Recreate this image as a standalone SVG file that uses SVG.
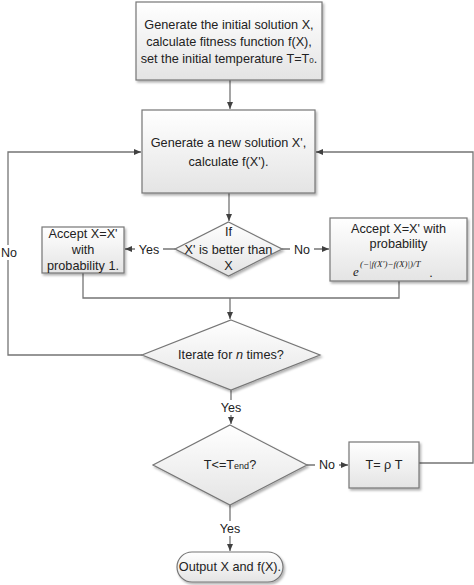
<svg xmlns="http://www.w3.org/2000/svg" width="474" height="585" viewBox="0 0 474 585">
<defs>
<linearGradient id="g" x1="0" y1="0" x2="0" y2="1">
<stop offset="0" stop-color="#ffffff"/>
<stop offset="1" stop-color="#e4e4e4"/>
</linearGradient>
<filter id="sh" x="-10%" y="-10%" width="125%" height="130%">
<feDropShadow dx="1.5" dy="2" stdDeviation="1.2" flood-color="#000" flood-opacity="0.3"/>
</filter>
<marker id="ah" markerWidth="8" markerHeight="8" refX="7" refY="4" orient="auto" markerUnits="userSpaceOnUse">
<path d="M0,1 L7,4 L0,7 Z" fill="#404040"/>
</marker>
<style>
.n{fill:url(#g);stroke:#767676;stroke-width:1.2;filter:url(#sh)}
.t{font-family:"Liberation Sans",Arial,sans-serif;font-size:12.7px;fill:#222;text-anchor:middle}
.c{fill:none;stroke:#747474;stroke-width:1.3}
.a{marker-end:url(#ah)}
.lb{font-family:"Liberation Sans",Arial,sans-serif;font-size:12.5px;fill:#222;text-anchor:middle}
.m{font-family:"Liberation Serif","Times New Roman",serif;font-style:italic;fill:#222}
</style>
</defs>

<g id="connectors">
<path class="c a" d="M230,80 V109"/>
<path class="c a" d="M229,193 V221"/>
<path class="c a" d="M175,249 H125"/>
<path class="c a" d="M282,249 H329"/>
<path class="c" d="M83,273 V298 H399 V281"/>
<path class="c a" d="M230,298 V319"/>
<path class="c a" d="M142,355 H8 V152 H141"/>
<path class="c a" d="M419,463 H473 V152 H316"/>
<path class="c a" d="M231,390 V424"/>
<path class="c a" d="M307,465 H348"/>
<path class="c a" d="M230,505 V551"/>
<rect x="135" y="242" width="28" height="15" fill="#fff"/>
<text class="lb" x="149" y="254">Yes</text>
<rect x="290" y="242" width="24" height="15" fill="#fff"/>
<text class="lb" x="302" y="254">No</text>
<rect x="0" y="245" width="17" height="15" fill="#fff"/>
<text class="lb" x="9" y="257">No</text>
<rect x="217" y="400" width="28" height="15" fill="#fff"/>
<text class="lb" x="231" y="412">Yes</text>
<rect x="315" y="457" width="24" height="15" fill="#fff"/>
<text class="lb" x="327" y="469">No</text>
<rect x="216" y="521" width="28" height="15" fill="#fff"/>
<text class="lb" x="230" y="533">Yes</text>
</g>

<g id="init">
<rect class="n" x="136" y="2" width="186" height="78"/>
<text class="t" x="229" y="29">Generate the initial solution X,</text>
<text class="t" x="229" y="46">calculate fitness function f(X),</text>
<text class="t" x="229" y="63">set the initial temperature T=T<tspan font-size="8">0</tspan>.</text>
</g>

<g id="newsol">
<rect class="n" x="142" y="110" width="173" height="83"/>
<text class="t" x="228.5" y="147">Generate a new solution X',</text>
<text class="t" x="228.5" y="166">calculate f(X').</text>
</g>

<g id="better">
<polygon class="n" points="228.5,222 282,249 228.5,276 175,249"/>
<text class="t" x="228.5" y="236">If</text>
<text class="t" x="228.5" y="254">X' is better than</text>
<text class="t" x="228.5" y="270">X</text>
</g>

<g id="accept1">
<rect class="n" x="42" y="227" width="82" height="46"/>
<text class="t" x="83" y="238">Accept X=X'</text>
<text class="t" x="83" y="254">with</text>
<text class="t" x="83" y="270">probability 1.</text>
</g>

<g id="acceptp">
<rect class="n" x="330" y="218" width="137" height="63"/>
<text class="t" x="398.5" y="233">Accept X=X' with</text>
<text class="t" x="398.5" y="248">probability</text>
<text class="m" x="353" y="276" font-size="13">e</text>
<text class="m" x="360" y="267" font-size="9">(−|f(X′)−f(X)|)/T</text>
<text class="t" x="431" y="277">.</text>
</g>

<g id="iterate">
<polygon class="n" points="231,320 320,355 231,390 142,355"/>
<text class="t" x="231" y="359">Iterate for <tspan font-style="italic">n</tspan> times?</text>
</g>

<g id="tend">
<polygon class="n" points="230,425 307,465 230,505 153,465"/>
<text class="t" x="230" y="469">T&lt;=T<tspan font-size="9">end</tspan>?</text>
</g>

<g id="cool">
<rect class="n" x="349" y="442" width="70" height="46"/>
<text class="t" x="384" y="469">T= ρ T</text>
</g>

<g id="output">
<rect class="n" x="177" y="552" width="106" height="30" rx="15" ry="15"/>
<text class="t" x="230" y="571">Output X and f(X).</text>
</g>
</svg>
